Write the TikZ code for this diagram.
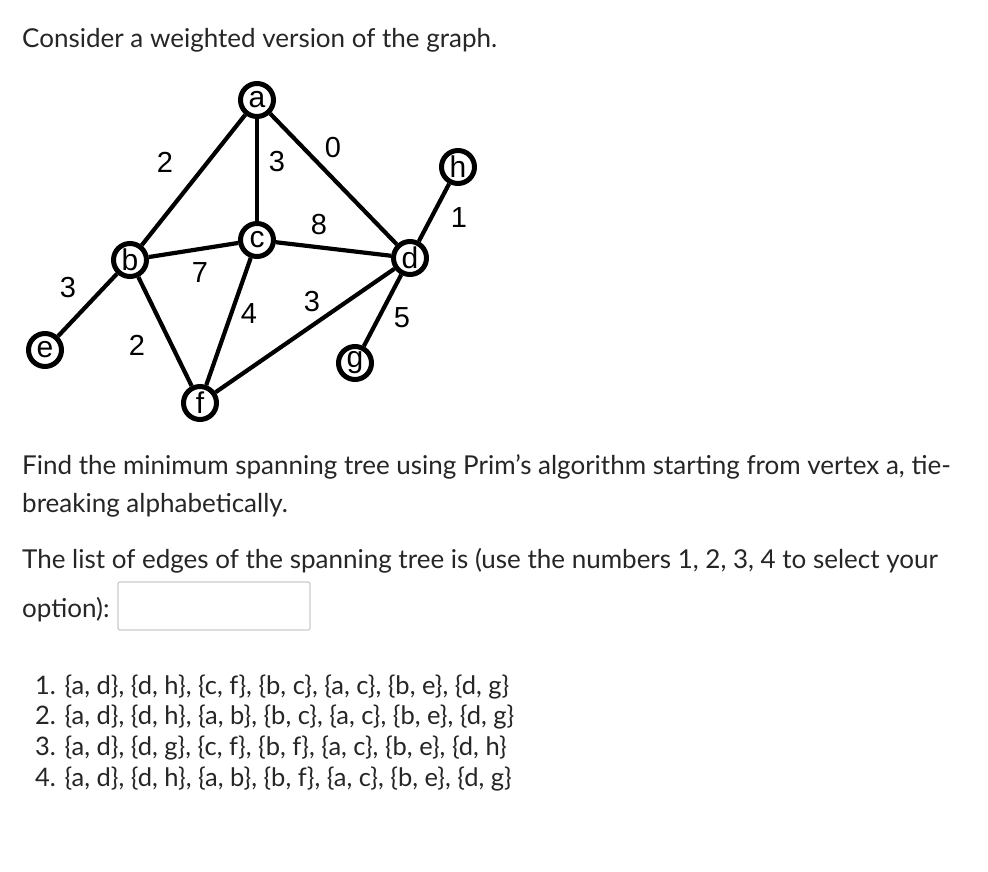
\documentclass[tikz,border=0pt]{standalone}
\usepackage{fontspec}
\setmainfont{Lato}
\newfontfamily\graphfont{Liberation Sans}
\begin{document}
\begin{tikzpicture}[x=1pt,y=-1pt,
  vtx/.style={circle,draw,line width=5pt,minimum size=33pt,inner sep=0pt,font=\graphfont\fontsize{30}{30}\selectfont},
  edge/.style={line width=4.2pt},
  wt/.style={font=\graphfont\fontsize{29}{29}\selectfont},
  txt/.style={anchor=base west,inner sep=0pt,font=\fontsize{26}{26}\selectfont,text=black!85},
  opt/.style={anchor=base west,inner sep=0pt,font=\fontsize{25.5}{25.5}\selectfont,text=black!85}]
\useasboundingbox[fill=white] (0,0) rectangle (988,872);
\node[txt] (t1) at (22,48) {Consider a weighted version of the graph.};
\node[vtx] (a) at (257,100) {a};
\node[vtx] (h) at (458,167) {h};
\node[vtx] (c) at (257,240) {c};
\node[vtx] (b) at (130,260) {b};
\node[vtx] (d) at (410,258) {d};
\node[vtx] (e) at (45,350) {e};
\node[vtx] (g) at (355,363) {g};
\node[vtx] (f) at (200,403) {f};
\draw[edge] (a)--(b); \draw[edge] (a)--(c); \draw[edge] (a)--(d);
\draw[edge] (d)--(h); \draw[edge] (b)--(c); \draw[edge] (c)--(d);
\draw[edge] (c)--(f); \draw[edge] (f)--(d); \draw[edge] (d)--(g);
\draw[edge] (b)--(e); \draw[edge] (b)--(f);
\node[wt] (w1) at (165,162) {2};
\node[wt] (w2) at (277,162) {3};
\node[wt] (w3) at (333,148) {0};
\node[wt] (w4) at (459,218) {1};
\node[wt] (w5) at (319,225) {8};
\node[wt] (w6) at (200,273) {7};
\node[wt] (w7) at (68,288) {3};
\node[wt] (w8) at (249,314) {4};
\node[wt] (w9) at (312,302) {3};
\node[wt] (w10) at (402,318) {5};
\node[wt] (w11) at (137,345) {2};
\node[txt] (t2) at (22,474) {Find the minimum spanning tree using Prim’s algorithm starting from vertex a, tie-};
\node[txt] (t3) at (22,512) {breaking alphabetically.};
\node[txt] (t4) at (22,568) {The list of edges of the spanning tree is (use the numbers 1, 2, 3, 4 to select your};
\node[txt] (t5) at (22,617) {option):};
\draw[black!20,line width=1.2pt,rounded corners=2pt] (118,582) rectangle (310,630);
\node[opt] (o1) at (35,694) {1. \{a, d\}, \{d, h\}, \{c, f\}, \{b, c\}, \{a, c\}, \{b, e\}, \{d, g\}};
\node[opt] (o2) at (35,724) {2. \{a, d\}, \{d, h\}, \{a, b\}, \{b, c\}, \{a, c\}, \{b, e\}, \{d, g\}};
\node[opt] (o3) at (35,755) {3. \{a, d\}, \{d, g\}, \{c, f\}, \{b, f\}, \{a, c\}, \{b, e\}, \{d, h\}};
\node[opt] (o4) at (35,786) {4. \{a, d\}, \{d, h\}, \{a, b\}, \{b, f\}, \{a, c\}, \{b, e\}, \{d, g\}};
\end{tikzpicture}
\end{document}
